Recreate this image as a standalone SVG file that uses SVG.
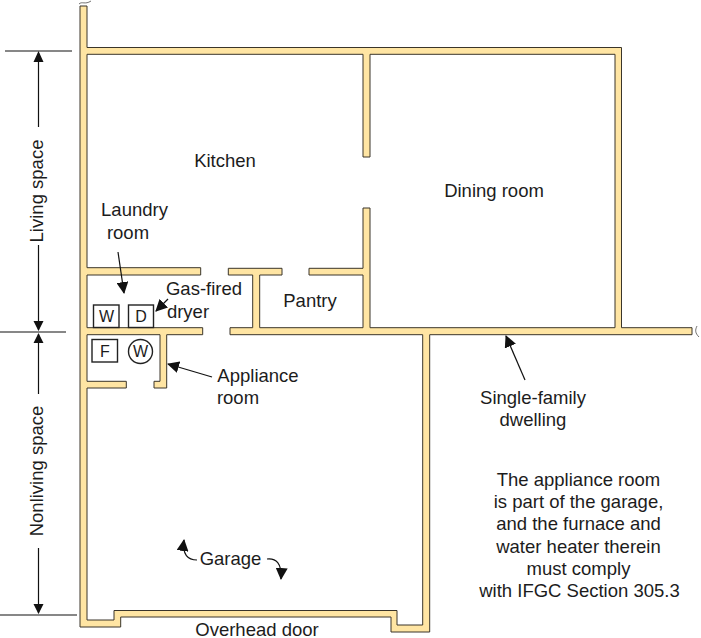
<svg xmlns="http://www.w3.org/2000/svg" width="701" height="638" viewBox="0 0 701 638">
<style>
text{font-family:"Liberation Sans",Arial,sans-serif;font-size:18.5px;fill:#1c1c1c;text-anchor:middle}
.small{font-size:16px}
.wall{fill:#ffe5a3;fill-rule:evenodd;stroke:#3a352a;stroke-width:1}
.ln{fill:none;stroke:#111;stroke-width:1.2}
.thin{fill:none;stroke:#333;stroke-width:0.7}
.box{fill:#fff;stroke:#222;stroke-width:1.4}
.head{fill:#111;stroke:none}
</style>
<defs>
<marker id="ah" viewBox="0 0 12 12" refX="11" refY="6" markerWidth="12" markerHeight="12" markerUnits="userSpaceOnUse" orient="auto"><path d="M0,0L12,6L0,12Z" fill="#111"/></marker>
</defs>
<g id="walls"><path class="wall" d="M80,6H87V47.500H621.500V327.700H692V334.700H429.700V632H391V617H120.700V627H80Z
M87,54.300H363V157H370V54.300H615V327.700H370V208H363V268.300H309V275H363V327.700H259.700V275H282V268.300H228.300V275H252.700V327.700H230V334.700H422.700V625H397V610.500H114V620H87V388H126.300V381.300H87V334.700H160V381.300H154V388H166.700V334.700H202.700V327.700H87V275H200.700V267.700H87Z"/>
<path class="thin" d="M79,4C82,1 85,5 91,1M697,326C695,330 695,333 699,337"/></g>
<g id="dimensions">
<path class="ln" d="M5,51H72M0,332H66M0,615H77M38.500,53V127M38.500,245V330M38.500,334V394M38.500,548V613"/>
<path class="head" d="M38.500,51L33.500,62H43.500ZM38.500,331L33.500,321H43.500ZM38.500,333L33.500,343H43.500ZM38.500,614L33.500,604H43.500Z"/>
<text transform="translate(43,191) rotate(-90)">Living space</text>
<text transform="translate(43,471) rotate(-90)">Nonliving space</text>
</g>
<g id="washer"><rect class="box" x="93.500" y="305" width="25.500" height="22.500"/><text class="small" x="106.500" y="322">W</text></g>
<g id="dryer"><rect class="box" x="128.500" y="305" width="25" height="22.500"/><text class="small" x="141" y="322">D</text></g>
<g id="furnace"><rect class="box" x="92" y="339.500" width="25.500" height="22.500"/><text class="small" x="105" y="357">F</text></g>
<g id="water-heater"><circle class="box" cx="140.500" cy="351.500" r="12"/><text class="small" x="140.500" y="357">W</text></g>
<g id="connectors">
<path class="ln" d="M118,252L124,293" marker-end="url(#ah)"/>
<path class="ln" d="M168,299L156,311" marker-end="url(#ah)"/>
<path class="ln" d="M212,377L168,364" marker-end="url(#ah)"/>
<path class="ln" d="M525,380L506,336" marker-end="url(#ah)"/>
<path class="ln" d="M197,560C188,560 182,555 184,540" marker-end="url(#ah)"/>
<path class="ln" d="M267,559C276,558 282,563 281,579" marker-end="url(#ah)"/>
</g>
<g id="labels">
<text x="225" y="167">Kitchen</text>
<text x="494" y="197">Dining room</text>
<text x="134.500" y="216">Laundry</text>
<text x="128" y="239">room</text>
<text x="204" y="295">Gas-fired</text>
<text x="188" y="318">dryer</text>
<text x="310" y="307">Pantry</text>
<text x="258" y="382">Appliance</text>
<text x="238" y="404">room</text>
<text x="533" y="404">Single-family</text>
<text x="533" y="426">dwelling</text>
<text x="230.500" y="565">Garage</text>
<text x="257" y="635.500">Overhead door</text>
<text x="578.500" y="486">The appliance room</text>
<text x="578.500" y="508">is part of the garage,</text>
<text x="578.500" y="530">and the furnace and</text>
<text x="578.500" y="553">water heater therein</text>
<text x="578.500" y="575">must comply</text>
<text x="579.500" y="597">with IFGC Section 305.3</text>
</g>
</svg>
